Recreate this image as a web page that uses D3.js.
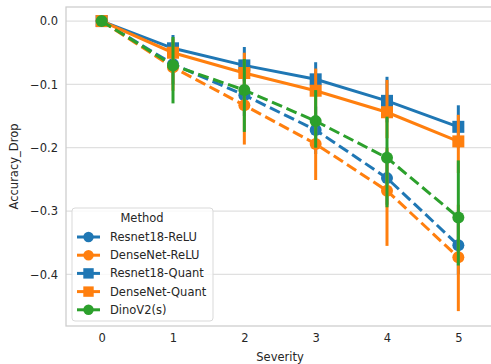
<!DOCTYPE html>
<html>
<head>
<meta charset="utf-8">
<script src="https://cdn.jsdelivr.net/npm/d3@7"></script>
<style>
  body { margin: 0; background: #fff; }
  text { font-family: "DejaVu Sans", sans-serif; fill: #262626; }
</style>
</head>
<body>
<div id="chart"></div>
<script>
// severity levels on the x axis
const severities = [0, 1, 2, 3, 4, 5];
const methods = ["Resnet18-ReLU", "DenseNet-ReLU", "Resnet18-Quant", "DenseNet-Quant", "DinoV2(s)"];

// mean accuracy drop per method
const resnetReluMean = [0, -0.068, -0.117, -0.172, -0.248, -0.354];
const densenetReluMean = [0, -0.073, -0.133, -0.194, -0.268, -0.373];
const resnetQuantMean = [0, -0.043, -0.070, -0.092, -0.126, -0.167];
const densenetQuantMean = [0, -0.050, -0.082, -0.110, -0.144, -0.190];
const dinoMean = [0, -0.070, -0.109, -0.158, -0.216, -0.310];

// error bar ranges [low, high]
const resnetReluCI = [[0, 0], [-0.10, -0.04], [-0.15, -0.085], [-0.21, -0.135], [-0.29, -0.205], [-0.40, -0.31]];
const densenetReluCI = [[0, 0], [-0.11, -0.04], [-0.195, -0.085], [-0.251, -0.14], [-0.355, -0.20], [-0.458, -0.29]];
const resnetQuantCI = [[0, 0], [-0.065, -0.022], [-0.095, -0.041], [-0.12, -0.065], [-0.16, -0.088], [-0.20, -0.133]];
const densenetQuantCI = [[0, 0], [-0.075, -0.028], [-0.11, -0.05], [-0.14, -0.075], [-0.185, -0.093], [-0.24, -0.148]];
const dinoCI = [[0, 0], [-0.13, -0.025], [-0.175, -0.06], [-0.20, -0.109], [-0.294, -0.151], [-0.386, -0.22]];

const yTicks = [0.0, -0.1, -0.2, -0.3, -0.4];

const series = [
  { name: methods[0], mean: resnetReluMean, ci: resnetReluCI, color: "#1f77b4", dashed: true, marker: "circle" },
  { name: methods[1], mean: densenetReluMean, ci: densenetReluCI, color: "#ff7f0e", dashed: true, marker: "circle" },
  { name: methods[2], mean: resnetQuantMean, ci: resnetQuantCI, color: "#1f77b4", dashed: false, marker: "square" },
  { name: methods[3], mean: densenetQuantMean, ci: densenetQuantCI, color: "#ff7f0e", dashed: false, marker: "square" },
  { name: methods[4], mean: dinoMean, ci: dinoCI, color: "#2ca02c", dashed: true, marker: "circle" }
];

const width = 491, height = 364;
const margin = { top: 7, right: -3, bottom: 38, left: 66 };
const fontSize = "11.5px";

const svg = d3.select("#chart").append("svg")
  .attr("width", width)
  .attr("height", height);

const x = d3.scaleLinear().domain([-0.5, 5.5]).range([margin.left, width - margin.right]);
const y = d3.scaleLinear().domain([-0.4815, 0.0222]).range([height - margin.bottom, margin.top]);

// grid lines
svg.append("g")
  .selectAll("line")
  .data(yTicks)
  .join("line")
  .attr("x1", margin.left)
  .attr("x2", width - margin.right)
  .attr("y1", d => y(d))
  .attr("y2", d => y(d))
  .attr("stroke", "#e0e0e0")
  .attr("stroke-width", 1.2);

// frame
svg.append("rect")
  .attr("x", margin.left)
  .attr("y", margin.top)
  .attr("width", width - margin.right - margin.left)
  .attr("height", height - margin.bottom - margin.top)
  .attr("fill", "none")
  .attr("stroke", "#cccccc")
  .attr("stroke-width", 1.25);

// axes
const fmt = d => d3.format(".1f")(d).replace("-", "\u2212");
const yAxis = svg.append("g")
  .attr("transform", `translate(${margin.left},0)`)
  .call(d3.axisLeft(y).tickValues(yTicks).tickFormat(fmt).tickSize(0).tickPadding(8));
const xAxis = svg.append("g")
  .attr("transform", `translate(0,${height - margin.bottom})`)
  .call(d3.axisBottom(x).tickValues(severities).tickFormat(d3.format("d")).tickSize(0).tickPadding(8));
[yAxis, xAxis].forEach(a => {
  a.select(".domain").remove();
  a.selectAll("text").style("font-size", fontSize).attr("fill", "#262626");
});

svg.append("text")
  .attr("x", (margin.left + width - margin.right) / 2)
  .attr("y", 361)
  .attr("text-anchor", "middle")
  .style("font-size", fontSize)
  .text("Severity");

svg.append("text")
  .attr("transform", `translate(18,${(margin.top + height - margin.bottom) / 2}) rotate(-90)`)
  .attr("text-anchor", "middle")
  .style("font-size", fontSize)
  .text("Accuracy_Drop");

const line = d3.line()
  .x((d, i) => x(severities[i]))
  .y(d => y(d));

const lw = 3;
const plot = svg.append("g");

function drawMarker(g, s, cx, cy, r) {
  if (s.marker === "circle") {
    g.append("circle").attr("cx", cx).attr("cy", cy).attr("r", r).attr("fill", s.color);
  } else {
    g.append("rect").attr("x", cx - r).attr("y", cy - r)
      .attr("width", 2 * r).attr("height", 2 * r).attr("fill", s.color);
  }
}

series.forEach(s => {
  const g = plot.append("g");
  g.append("path")
    .datum(s.mean)
    .attr("d", line)
    .attr("fill", "none")
    .attr("stroke", s.color)
    .attr("stroke-width", lw)
    .attr("stroke-dasharray", s.dashed ? "11,4.8" : null);
  s.mean.forEach((v, i) => {
    drawMarker(g, s, x(severities[i]), y(v), 6);
  });
  g.selectAll(".err")
    .data(s.ci)
    .join("line")
    .attr("x1", (d, i) => x(severities[i]))
    .attr("x2", (d, i) => x(severities[i]))
    .attr("y1", d => y(d[0]))
    .attr("y2", d => y(d[1]))
    .attr("stroke", s.color)
    .attr("stroke-width", lw);
});

// legend
const legend = svg.append("g").attr("transform", "translate(72,208)");
legend.append("rect")
  .attr("width", 141)
  .attr("height", 113)
  .attr("rx", 3)
  .attr("fill", "white")
  .attr("fill-opacity", 0.8)
  .attr("stroke", "#d9d9d9")
  .attr("stroke-width", 1);
legend.append("text")
  .attr("x", 70)
  .attr("y", 14)
  .attr("text-anchor", "middle")
  .style("font-size", fontSize)
  .text("Method");
series.forEach((s, i) => {
  const row = legend.append("g").attr("transform", `translate(0,${29 + i * 18.2})`);
  row.append("line")
    .attr("x1", 5).attr("x2", 28)
    .attr("stroke", s.color).attr("stroke-width", lw);
  drawMarker(row, s, 16.5, 0, 5.2);
  row.append("text")
    .attr("x", 38)
    .attr("dy", "0.35em")
    .style("font-size", fontSize)
    .text(s.name);
});
</script>
</body>
</html>
